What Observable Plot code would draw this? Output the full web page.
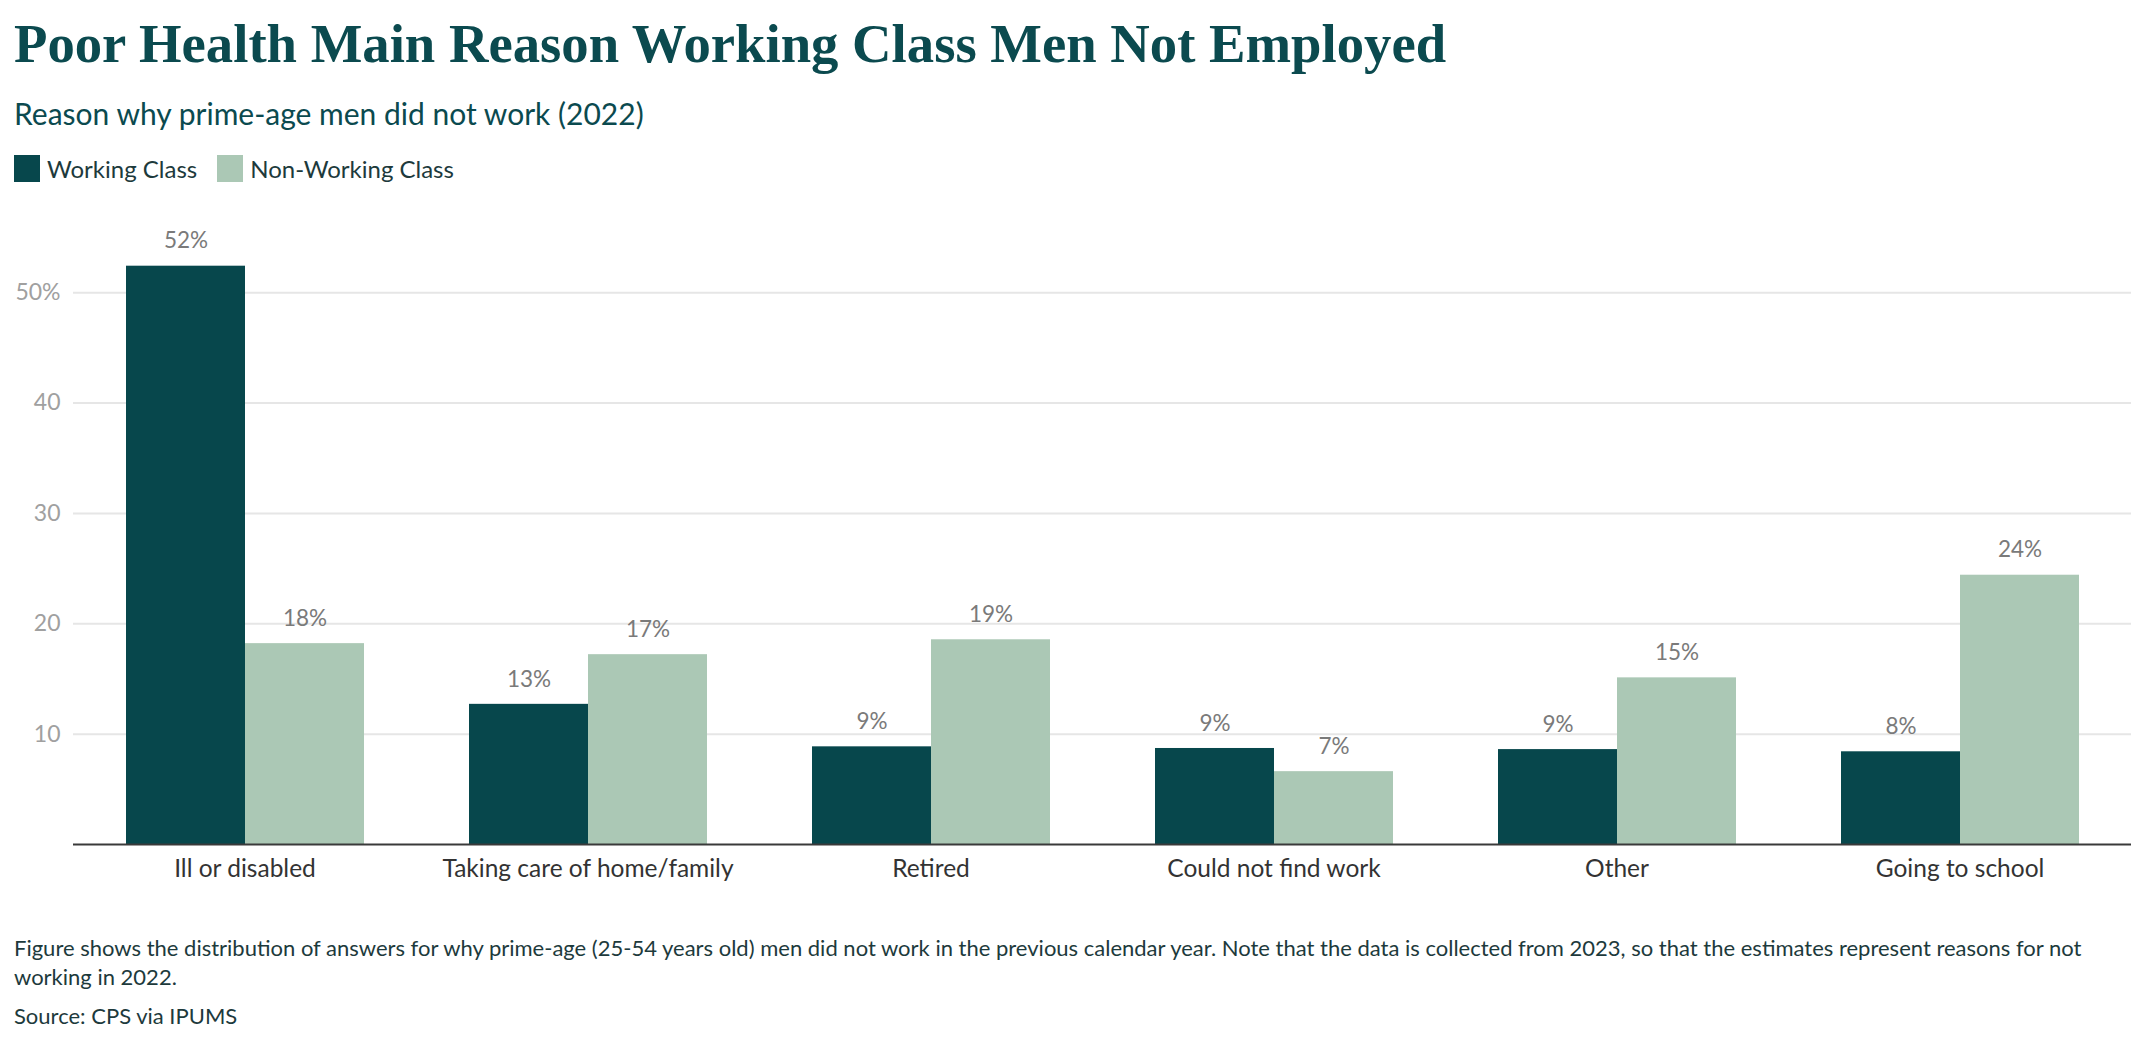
<!DOCTYPE html>
<html>
<head>
<meta charset="utf-8">
<script src="https://cdn.jsdelivr.net/npm/d3@7"></script>
<script src="https://cdn.jsdelivr.net/npm/@observablehq/plot@0.6"></script>
<style>
  html, body { margin: 0; padding: 0; background: #fff; }
  #wrap { position: relative; width: 2152px; height: 1056px; font-family: Lato, "Noto Sans", sans-serif; }
  .title { position: absolute; left: 14px; top: 12px; margin: 0; font-family: "Liberation Serif", serif; font-weight: 700; font-size: 54.7px; color: #0b4a4f; white-space: nowrap; }
  .subtitle { position: absolute; left: 14px; top: 95px; font-size: 30px; color: #0b4a4f; white-space: nowrap; }
  .legend { position: absolute; left: 14px; top: 154px; display: flex; align-items: center; font-size: 24px; color: #1d3a3c; white-space: nowrap; }
  .legend .sw { display: inline-block; width: 26px; height: 27px; margin-right: 7px; }
  .legend .item { display: flex; align-items: center; margin-right: 20px; }
  #chart { position: absolute; left: 0; top: 190px; }
  .foot { position: absolute; left: 14px; font-size: 22px; color: #1d3a3c; white-space: nowrap; }
</style>
</head>
<body>
<div id="wrap">
  <h1 class="title">Poor Health Main Reason Working Class Men Not Employed</h1>
  <div class="subtitle">Reason why prime-age men did not work (2022)</div>
  <div class="legend" id="legend"></div>
  <div id="chart"></div>
  <div class="foot" style="top:934px">Figure shows the distribution of answers for why prime-age (25-54 years old) men did not work in the previous calendar year. Note that the data is collected from 2023, so that the estimates represent reasons for not</div>
  <div class="foot" style="top:963px">working in 2022.</div>
  <div class="foot" style="top:1002px">Source: CPS via IPUMS</div>
</div>
<script>
// Reasons for not working, share of prime-age men (%)
const reasons = ["Ill or disabled", "Taking care of home/family", "Retired", "Could not find work", "Other", "Going to school"];
const groups = ["Working Class", "Non-Working Class"];
const workingClass = [52.4, 12.7, 8.85, 8.7, 8.6, 8.4];
const nonWorkingClass = [18.2, 17.2, 18.55, 6.6, 15.1, 24.4];
const colors = ["#07474c", "#abc8b5"];
const yTicks = [10, 20, 30, 40, 50];

const rows = reasons.flatMap((r, i) => [
  {reason: r, group: groups[0], value: workingClass[i]},
  {reason: r, group: groups[1], value: nonWorkingClass[i]}
]);

// Legend
const legend = document.getElementById("legend");
groups.forEach((g, i) => {
  const item = document.createElement("div");
  item.className = "item";
  const sw = document.createElement("span");
  sw.className = "sw";
  sw.style.background = colors[i];
  item.appendChild(sw);
  item.appendChild(document.createTextNode(g));
  legend.appendChild(item);
});

const chart = Plot.plot({
  width: 2152,
  height: 700,
  marginLeft: 72,
  marginRight: 21,
  marginTop: 47,
  marginBottom: 46,
  style: {fontFamily: "Lato, 'Noto Sans', sans-serif", background: "transparent"},
  fx: {domain: reasons, padding: 0, label: null},
  x: {domain: groups, paddingInner: 0, paddingOuter: 0.43, axis: null},
  y: {domain: [0, 55], label: null},
  color: {domain: groups, range: colors},
  marks: [
    Plot.gridY(yTicks, {stroke: "#e6e6e6", strokeOpacity: 1, strokeWidth: 2}),
    Plot.barY(rows, {fx: "reason", x: "group", y: "value", fill: "group"}),
    Plot.text(rows, {fx: "reason", x: "group", y: "value", text: d => `${Math.round(d.value)}%`, dy: -25, fill: "#7a7a7a", fontSize: 22.5}),
    Plot.ruleY([0], {stroke: "#3a3a3a", strokeWidth: 2}),
    Plot.axisY(yTicks, {tickSize: 0, tickPadding: 13, fontSize: 23, fill: "#a0a0a0", tickFormat: d => d === 50 ? "50%" : String(d), label: null}),
    Plot.axisFx({anchor: "bottom", tickSize: 0, tickPadding: 15, fontSize: 24.5, fill: "#333", label: null})
  ]
});
document.getElementById("chart").appendChild(chart);
</script>
</body>
</html>
